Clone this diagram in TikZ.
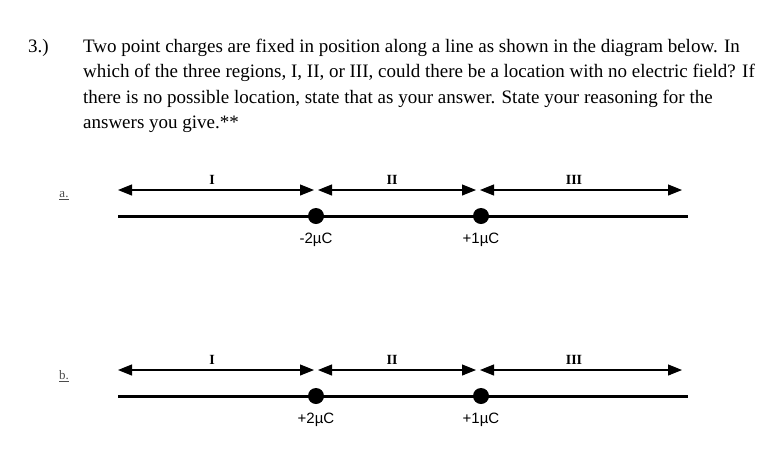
\documentclass[tikz,border=0pt]{standalone}
\usepackage{fontspec}
\setmainfont{Liberation Serif}
\setsansfont{Liberation Sans}
\usetikzlibrary{arrows.meta}
\begin{document}
\begin{tikzpicture}[x=1pt,y=-1pt,
  txt/.style={anchor=base west,inner sep=0,font=\fontsize{19}{19}\selectfont},
  rarrow/.style={line width=1.1pt,{Triangle[length=14pt,width=11pt]}-{Triangle[length=14pt,width=11pt]}},
  axis/.style={line width=3pt},
  charge/.style={circle,fill=black,minimum size=16pt,inner sep=0},
  clab/.style={font=\sffamily\fontsize{15}{15}\selectfont},
  rlab/.style={font=\bfseries\fontsize{14}{14}\selectfont},
  sub/.style={font=\fontsize{13}{13}\selectfont,text=black!70}]
\useasboundingbox (0,0) rectangle (763,467);
\node[txt] (num) at (28,52) {3.)};
\node[txt] (l1) at (83,52) {Two point charges are fixed in position along a line as shown in the diagram below. In};
\node[txt] (l2) at (83,77) {which of the three regions, I, II, or III, could there be a location with no electric field? If};
\node[txt] (l3) at (83,103) {there is no possible location, state that as your answer. State your reasoning for the};
\node[txt] (l4) at (83,128) {answers you give.**};
\foreach \p/\y/\qa in {a/190/-2µC, b/370/+2µC}{
  \node[sub] (\p lab) at (64,\y+6) {\underline{\p.}};
  \coordinate (\p A) at (118,\y); \coordinate (\p B) at (314,\y);
  \coordinate (\p C) at (318,\y); \coordinate (\p D) at (476,\y);
  \coordinate (\p E) at (480,\y); \coordinate (\p F) at (682,\y);
  \draw[rarrow] (\p A) -- (\p B);
  \draw[rarrow] (\p C) -- (\p D);
  \draw[rarrow] (\p E) -- (\p F);
  \node[rlab] (\p I) at (212,\y-10) {I};
  \node[rlab] (\p II) at (392,\y-10) {II};
  \node[rlab] (\p III) at (574,\y-10) {III};
  \coordinate (\p L) at (118,\y+26); \coordinate (\p R) at (688,\y+26);
  \draw[axis] (\p L) -- (\p R);
  \node[charge] (\p q1) at (316,\y+26) {};
  \node[charge] (\p q2) at (481,\y+26) {};
  \node[clab] (\p t1) at (316,\y+50) {\qa};
  \node[clab] (\p t2) at (481,\y+50) {+1µC};
}
\end{tikzpicture}
\end{document}
